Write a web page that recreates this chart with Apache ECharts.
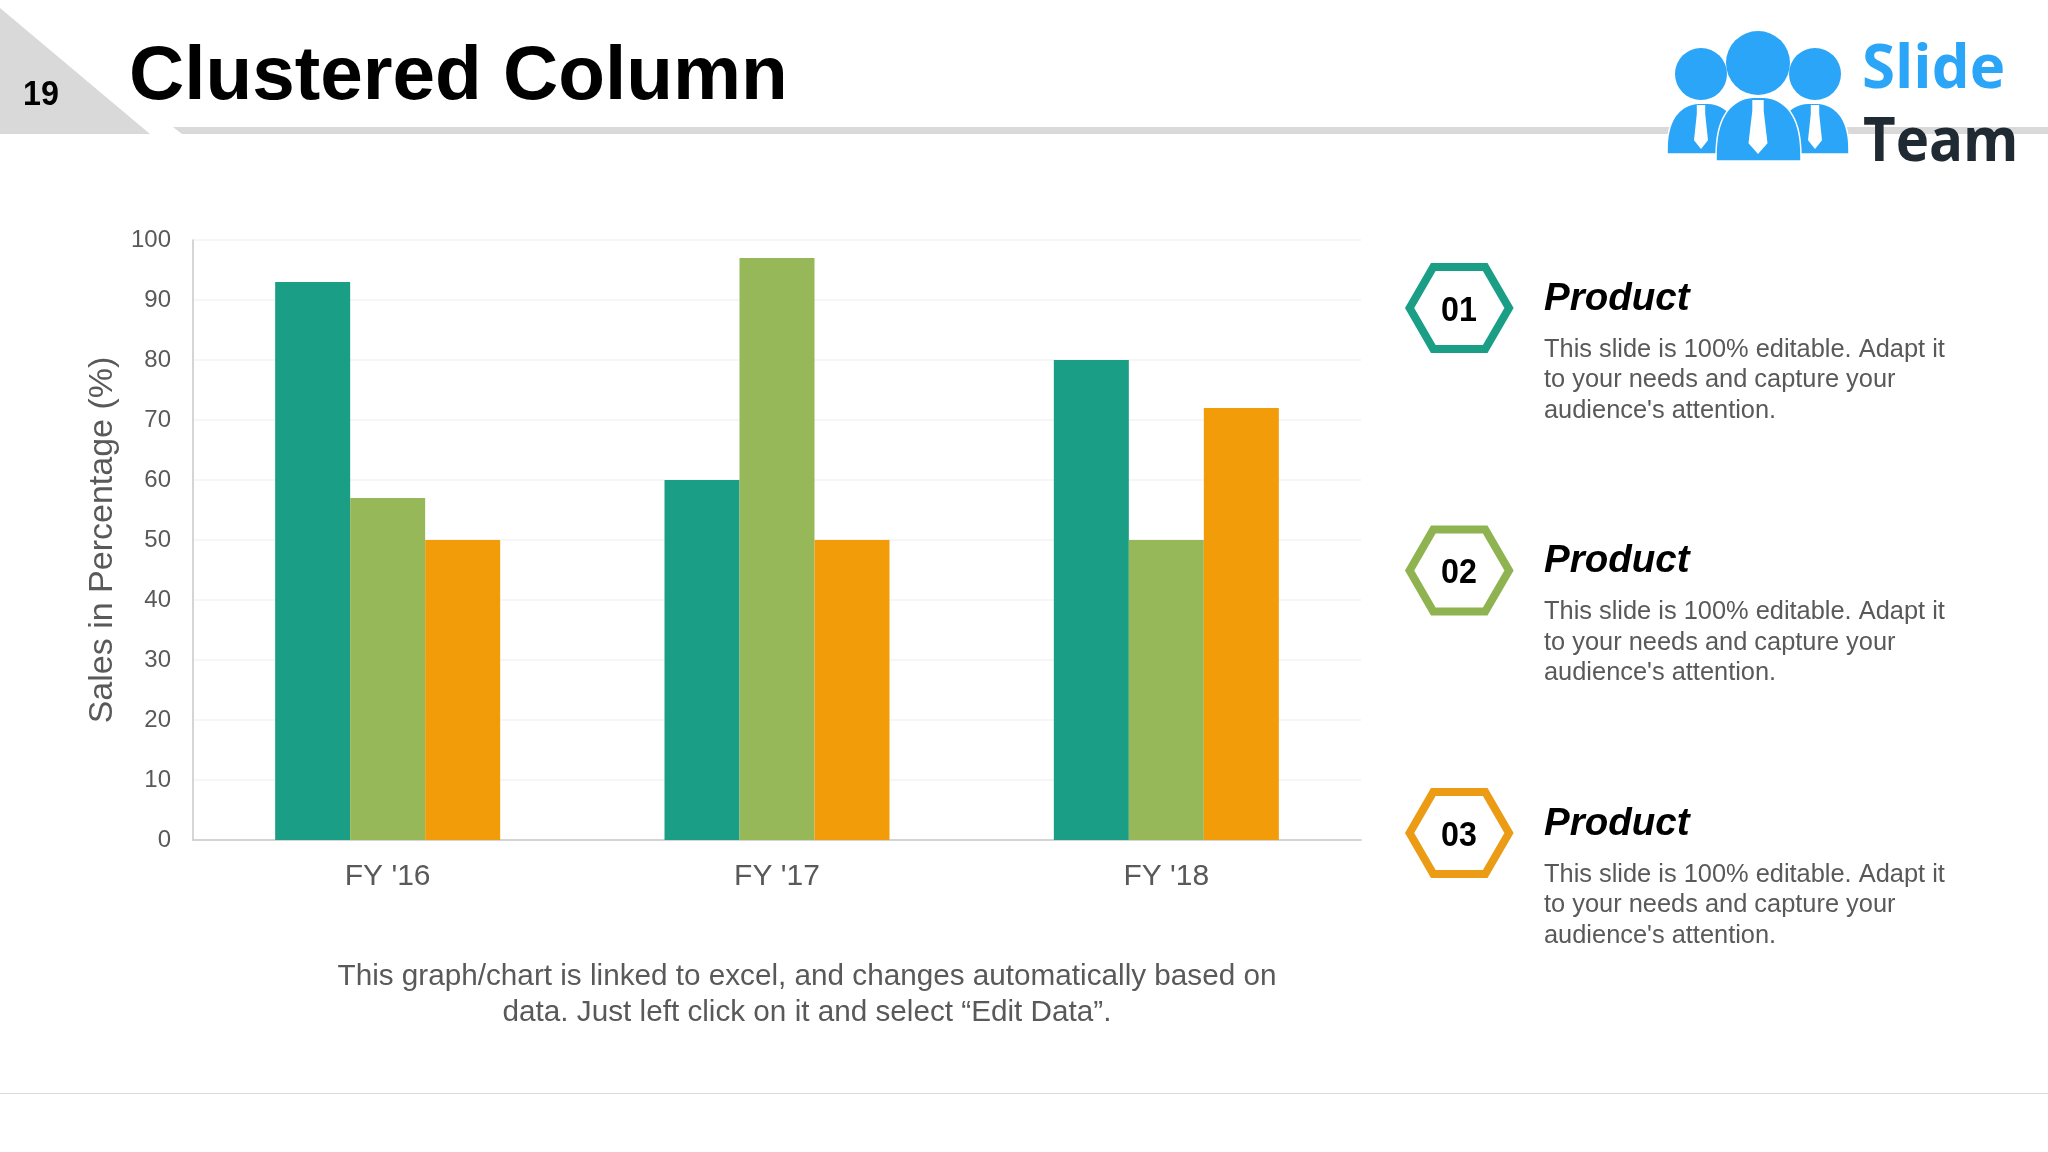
<!DOCTYPE html>
<html>
<head>
<meta charset="utf-8">
<title>Clustered Column</title>
<script src="https://cdn.jsdelivr.net/npm/echarts@6/dist/echarts.min.js"></script>
<style>
    html, body { margin: 0; padding: 0; background: #ffffff; }
    #chart { width: 2048px; height: 1152px; }
</style>
</head>
<body>
<div id="chart"></div>
<script>
var categories = ["FY '16", "FY '17", "FY '18"];
var seriesNames = ["Product 01", "Product 02", "Product 03"];
var product01 = [93, 60, 80];
var product02 = [57, 97, 50];
var product03 = [50, 50, 72];
var colors = ["#1a9e85", "#97b858", "#f39c0a"];
var hexColors = ["#1a9e85", "#8fb350", "#eb9c14"];
var hexLabels = ["01", "02", "03"];
var bodyLines = ["This slide is 100% editable. Adapt it", "to your needs and capture your", "audience's attention."];
var noteLines = ["This graph/chart is linked to excel, and changes automatically based on", "data. Just left click on it and select \u201cEdit Data\u201d."];

var FONT = '"Liberation Sans", Arial, sans-serif';
var GREY = "#595959";
var LOGO_BLUE = "#2aa5f8";

function text(str, x, y, size, color, opts) {
    opts = opts || {};
    var el = {
        type: "text",
        z: opts.z || 10,
        style: {
            text: str,
            x: x,
            y: y,
            fill: color,
            font: (opts.style || "") + " " + (opts.weight || "normal") + " " + size + "px " + (opts.family || FONT),
            textAlign: opts.align || "left",
            textVerticalAlign: "middle"
        }
    };
    if (opts.scaleX) {
        el.scaleX = opts.scaleX;
        el.originX = x;
        el.originY = y;
    }
    return el;
}

function poly(points, fill, z) {
    return { type: "polygon", z: z || 1, shape: { points: points }, style: { fill: fill } };
}

function dome(x0, x1, yBottom, yTop) {
    // rounded shoulders of the people in the logo, half an ellipse
    var pts = [];
    var rx = (x1 - x0) / 2, ry = yBottom - yTop;
    for (var a = 0; a <= 36; a++) {
        var t = Math.PI * a / 36;
        // power < 1 makes the dome a bit boxier than an ellipse
        var c = Math.cos(t), s = Math.sin(t);
        pts.push([x0 + rx - rx * (c < 0 ? -1 : 1) * Math.pow(Math.abs(c), 0.85), yBottom - ry * Math.pow(s, 0.75)]);
    }
    return {
        type: "polygon",
        z: 5,
        shape: { points: pts },
        style: { fill: LOGO_BLUE, stroke: "#ffffff", lineWidth: 1.5 }
    };
}

function tie(cx, top, h, w) {
    return poly([
        [cx - w * 0.3, top], [cx + w * 0.3, top], [cx + w * 0.3, top + h * 0.2],
        [cx + w * 0.5, top + h * 0.8], [cx, top + h], [cx - w * 0.5, top + h * 0.8],
        [cx - w * 0.3, top + h * 0.2]
    ], "#ffffff", 6);
}

var graphics = [];

// header
graphics.push(poly([[0, 8], [150, 134], [0, 134]], "#d9d9d9"));
graphics.push(poly([[173, 127], [2048, 127], [2048, 134], [182, 134]], "#d9d9d9"));
graphics.push(text("19", 41, 95, 35, "#000000", { weight: "bold", align: "center", scaleX: 0.92 }));
graphics.push(text("Clustered Column", 129, 78, 76.5, "#000000", { weight: "bold" }));
graphics.push({ type: "rect", z: 1, shape: { x: 0, y: 1093, width: 2048, height: 1 }, style: { fill: "#d9d9d9" } });

// logo
graphics.push({ type: "circle", z: 5, shape: { cx: 1701, cy: 74, r: 26 }, style: { fill: LOGO_BLUE } });
graphics.push({ type: "circle", z: 5, shape: { cx: 1815, cy: 74, r: 26 }, style: { fill: LOGO_BLUE } });
graphics.push(dome(1667, 1740, 154, 103));
graphics.push(dome(1776, 1849, 154, 103));
graphics.push(tie(1701, 105, 44, 14));
graphics.push(tie(1815, 105, 44, 14));
graphics.push({ type: "circle", z: 5, shape: { cx: 1758, cy: 63, r: 32 }, style: { fill: LOGO_BLUE } });
graphics.push(dome(1716, 1801, 161, 97));
graphics.push(tie(1758, 100, 54, 19));
graphics.push(text("Slide", 1862, 71, 60, LOGO_BLUE, { weight: "bold", family: '"Open Sans", sans-serif' }));
graphics.push(text("Team", 1863, 144, 60, "#1f2a33", { weight: "bold", family: '"Open Sans", sans-serif', scaleX: 0.94 }));

// hexagon list on the right
for (var i = 0; i < hexLabels.length; i++) {
    var off = i * 262.5;
    graphics.push({
        type: "polygon",
        z: 2,
        shape: {
            points: [[1409.6, 308 + off], [1433.3, 267 + off], [1485.2, 267 + off],
                     [1509, 308 + off], [1485.2, 349 + off], [1433.3, 349 + off]]
        },
        style: { fill: "#ffffff", stroke: hexColors[i], lineWidth: 8, lineJoin: "miter" }
    });
    graphics.push(text(hexLabels[i], 1459, 311 + off, 35, "#000000", { weight: "bold", align: "center", scaleX: 0.92 }));
    graphics.push(text("Product", 1544, 299 + off, 38.5, "#000000", { weight: "bold", style: "italic" }));
    for (var j = 0; j < bodyLines.length; j++) {
        graphics.push(text(bodyLines[j], 1544, 349.5 + off + j * 30.6, 25.4, GREY));
    }
}

// note under the chart
for (var k = 0; k < noteLines.length; k++) {
    graphics.push(text(noteLines[k], 807, 977 + k * 35.6, 29.7, GREY, { align: "center" }));
}

var seriesData = [product01, product02, product03];
var option = {
    animation: false,
    backgroundColor: "#ffffff",
    textStyle: { fontFamily: FONT },
    grid: { left: 193, right: 687, top: 240, bottom: 312 },
    xAxis: {
        type: "category",
        data: categories,
        axisTick: { show: false },
        axisLine: { lineStyle: { color: "#c8c8c8", width: 1.5 } },
        axisLabel: { color: GREY, fontSize: 30, margin: 22, fontFamily: FONT }
    },
    yAxis: {
        type: "value",
        min: 0,
        max: 100,
        interval: 10,
        name: "Sales in Percentage (%)",
        nameLocation: "middle",
        nameGap: 65,
        nameTextStyle: { color: GREY, fontSize: 34, fontFamily: FONT },
        axisLine: { show: true, lineStyle: { color: "#c8c8c8", width: 1.5 } },
        axisTick: { show: false },
        axisLabel: { color: GREY, fontSize: 24, margin: 22, fontFamily: FONT },
        splitLine: { lineStyle: { color: "#f3f3f3", width: 1.5 } }
    },
    series: seriesData.map(function (d, idx) {
        return {
            name: seriesNames[idx],
            type: "bar",
            data: d,
            barWidth: 75,
            barGap: 0,
            itemStyle: { color: colors[idx] }
        };
    }),
    graphic: { elements: graphics }
};

var myChart = echarts.init(document.getElementById("chart"));
myChart.setOption(option);
</script>
</body>
</html>
